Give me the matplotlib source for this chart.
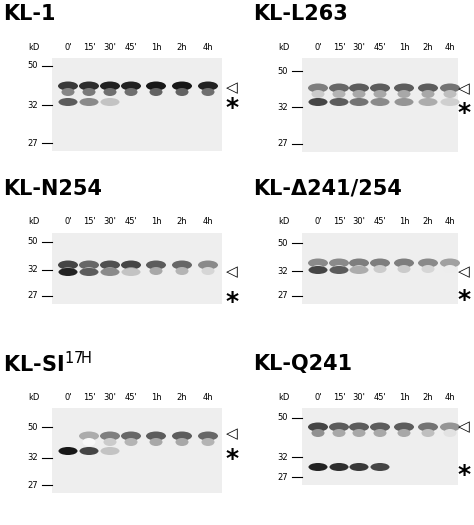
import matplotlib
matplotlib.use("Agg")
import matplotlib.pyplot as plt
from matplotlib.patches import Ellipse, Rectangle

titles = ["KL-1", "KL-L263", "KL-N254", "KL-Δ241/254", "KL-SI$^{\\mathrm{17H}}$", "KL-Q241"]
lanes = ["0'", "15'", "30'", "45'", "1h", "2h", "4h"]
markers = [50, 32, 27]
# band intensities (0..1) per lane: upper (full length, arrowhead) and lower (asterisk)
upper = [
    [0.75, 0.8, 0.85, 0.85, 0.9, 0.9, 0.85],
    [0.45, 0.55, 0.6, 0.6, 0.6, 0.6, 0.5],
    [0.7, 0.55, 0.65, 0.7, 0.6, 0.55, 0.4],
    [0.4, 0.4, 0.45, 0.45, 0.45, 0.4, 0.3],
    [0.0, 0.25, 0.45, 0.55, 0.6, 0.6, 0.55],
    [0.7, 0.6, 0.6, 0.6, 0.6, 0.5, 0.35],
]
lower = [
    [0.6, 0.4, 0.15, 0.0, 0.0, 0.0, 0.0],
    [0.7, 0.6, 0.5, 0.4, 0.35, 0.25, 0.1],
    [0.85, 0.6, 0.4, 0.15, 0.0, 0.0, 0.0],
    [0.7, 0.6, 0.25, 0.0, 0.0, 0.0, 0.0],
    [0.9, 0.7, 0.15, 0.0, 0.0, 0.0, 0.0],
    [0.85, 0.8, 0.75, 0.7, 0.0, 0.0, 0.0],
]
# per panel: x offset, y offset, y of 50/32/27 marks, upper band y, lower band y, triangle y, asterisk y
geom = [
    (0, 0, (66, 105, 143), 86, 102, 88, 103),
    (250, 0, (71, 107, 144), 88, 102, 89, 108),
    (0, 175, (67, 95, 121), 90, 97, 97, 122),
    (250, 175, (68, 96, 121), 88, 95, 97, 120),
    (0, 350, (77, 108, 135), 86, 101, 84, 104),
    (250, 350, (68, 107, 127), 77, 117, 77, 120),
]
lane_left = [68, 89, 110, 131, 156, 182, 208]
lane_right = [68, 89, 109, 130, 154, 178, 200]

fig = plt.figure(figsize=(4.74, 5.25), dpi=100)
ax = fig.add_axes([0, 0, 1, 1])
ax.set_xlim(0, 474); ax.set_ylim(525, 0); ax.axis("off")

for i in range(6):
    ox, oy, mk, uy, ly, ty, sy = geom[i]
    lane_x = lane_left if ox == 0 else lane_right
    right_end = lane_x[-1] + (14 if ox == 0 else 8)
    sym_x = right_end + (10 if ox == 0 else 6)
    ax.text(ox + 3, oy + 14, titles[i], fontsize=15, fontweight="bold", va="center", ha="left")
    ax.text(ox + 28, oy + 47, "kD", fontsize=6, va="center")
    for lx, lab in zip(lane_x, lanes):
        ax.text(ox + lx, oy + 47, lab, fontsize=6, ha="center", va="center")
    ax.add_patch(Rectangle((ox + 52, oy + 58), right_end - 52, mk[2] - 50, color="#eeeeee", lw=0))
    for m, yy in zip(markers, mk):
        ax.text(ox + 38, oy + yy, str(m), fontsize=6, ha="right", va="center")
        ax.plot([ox + 42, ox + 52], [oy + yy, oy + yy], color="k", lw=0.8)
    for j, lx in enumerate(lane_x):
        if upper[i][j] > 0:
            g = 1 - upper[i][j]
            ax.add_patch(Ellipse((ox + lx, oy + uy), 20, 9, color=str(g * 0.9), lw=0))
            ax.add_patch(Ellipse((ox + lx, oy + uy + 6), 13, 8, color=str(min(1, g * 0.9 + 0.3)), lw=0))
        if lower[i][j] > 0:
            g2 = 1 - lower[i][j]
            ax.add_patch(Ellipse((ox + lx, oy + ly), 19, 8, color=str(g2 * 0.9), lw=0))
    ax.text(ox + sym_x, oy + ty, "◁", fontsize=11, ha="center", va="center", fontweight="bold")
    ax.text(ox + sym_x, oy + sy + 5, "*", fontsize=18, ha="center", va="center", fontweight="bold")

fig.savefig("out.png", dpi=100, facecolor="white")
